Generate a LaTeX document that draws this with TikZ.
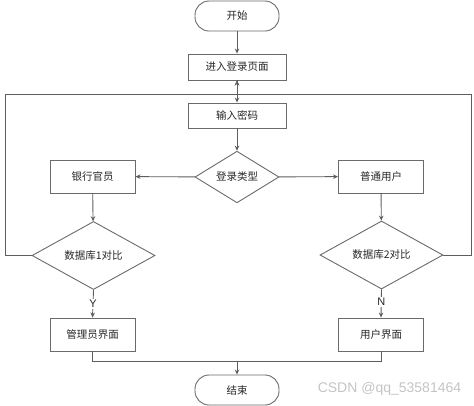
\documentclass[tikz,border=0pt]{standalone}
\usepackage{fontspec}
\newfontfamily\cjk{Noto Sans CJK SC}
\setmainfont{Liberation Sans}
\usetikzlibrary{arrows.meta,shapes.geometric}
\definecolor{linec}{HTML}{5E5E5E}
\definecolor{boxc}{HTML}{6A6A6A}
\definecolor{wmark}{HTML}{C4C4C4}
\tikzset{
  every node/.style={font=\cjk\fontsize{10.5}{12}\selectfont, text=black!85},
  proc/.style={draw=boxc, line width=0.9pt, rectangle, inner sep=0pt},
  term/.style={draw=boxc, line width=0.9pt, rectangle, rounded corners=14pt, minimum width=84pt, minimum height=30pt, inner sep=0pt},
  decide/.style={draw=boxc, line width=0.9pt, diamond, inner sep=0pt},
  conn/.style={draw=linec, line width=0.9pt},
  arr/.style={conn, -{Stealth[length=5pt,width=4.5pt]}},
  lbl/.style={fill=white, inner sep=1pt, font=\fontsize{11}{12}\selectfont},
}
\begin{document}
\begin{tikzpicture}[x=1pt,y=-1pt]
\useasboundingbox (0,0) rectangle (474,405);
\node[term] (start) at (237,16) {开始};
\node[proc, minimum width=98pt, minimum height=26pt] (login) at (237,67) {进入登录页面};
\node[proc, minimum width=98pt, minimum height=25pt] (input) at (237,115.5) {输入密码};
\node[decide, minimum width=84pt, minimum height=50pt] (type) at (237,177) {登录类型};
\node[proc, minimum width=85pt, minimum height=33pt] (bank) at (92.5,176.5) {银行官员};
\node[proc, minimum width=85pt, minimum height=33pt] (user) at (381,176.5) {普通用户};
\node[decide, minimum width=123pt, minimum height=61pt] (d1) at (93.5,255.5) {数据库1对比};
\node[decide, minimum width=123pt, minimum height=50pt] (d2) at (381.5,255) {数据库2对比};
\node[proc, minimum width=85pt, minimum height=33pt] (admin) at (92.5,334.5) {管理员界面};
\node[proc, minimum width=85pt, minimum height=33pt] (uif) at (381,334.5) {用户界面};
\node[term] (end) at (237,390) {结束};
\coordinate (j) at (237,94);
\coordinate (m) at (237,361);
\coordinate (lc) at (5,255.5);
\coordinate (rc) at (471,255);

\draw[arr] (start) -- (login);
\draw[arr] (login) -- (input);
\draw[arr] (d1.west) -- (lc) |- (j) -- (login.south);
\draw[arr] (d2.east) -- (rc) |- (j) -- (login.south);
\draw[arr] (input) -- (type);
\draw[arr] (type) -- (bank);
\draw[arr] (type) -- (user);
\draw[arr] (bank) -- (d1);
\draw[arr] (user) -- (d2);
\draw[arr] (d1.south) -- node[lbl, pos=0.5] {Y} (admin.north);
\draw[arr] (d2.south) -- node[lbl, pos=0.45] {N} (uif.north);
\draw[conn] (admin.south) |- (m);
\draw[conn] (uif.south) |- (m);
\draw[arr] (m) -- (end);
\node[font=\fontsize{14}{16}\selectfont, text=wmark, inner sep=0pt] (wm) at (389.5,389) {CSDN @qq\_53581464};
\end{tikzpicture}
\end{document}
